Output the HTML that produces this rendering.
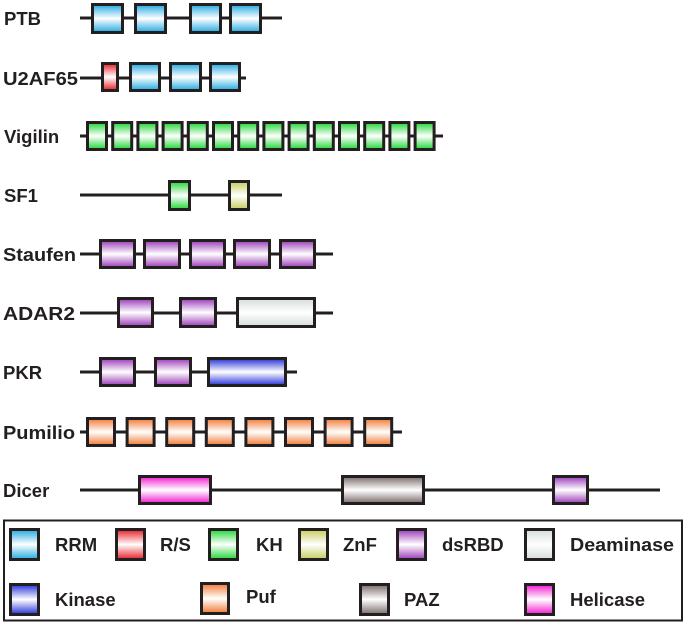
<!DOCTYPE html>
<html><head><meta charset="utf-8"><style>
html,body{margin:0;padding:0;background:#fff;}
svg{display:block;}
text{font-family:"Liberation Sans",Arial,sans-serif;font-weight:bold;fill:#231f20;}
</style></head><body>
<svg width="685" height="624" viewBox="0 0 685 624" xmlns="http://www.w3.org/2000/svg">
<defs>
<linearGradient id="rrm" x1="0" y1="0" x2="0" y2="1"><stop offset="0" stop-color="#1fa8e0"/><stop offset="0.5" stop-color="#fff"/><stop offset="1" stop-color="#1fa8e0"/></linearGradient>
<linearGradient id="rs" x1="0" y1="0" x2="0" y2="1"><stop offset="0" stop-color="#e81c24"/><stop offset="0.5" stop-color="#fff"/><stop offset="1" stop-color="#e81c24"/></linearGradient>
<linearGradient id="kh" x1="0" y1="0" x2="0" y2="1"><stop offset="0" stop-color="#1ed632"/><stop offset="0.5" stop-color="#fff"/><stop offset="1" stop-color="#1ed632"/></linearGradient>
<linearGradient id="znf" x1="0" y1="0" x2="0" y2="1"><stop offset="0" stop-color="#c4cc5a"/><stop offset="0.5" stop-color="#fff"/><stop offset="1" stop-color="#c4cc5a"/></linearGradient>
<linearGradient id="ds" x1="0" y1="0" x2="0" y2="1"><stop offset="0" stop-color="#9a38b8"/><stop offset="0.5" stop-color="#fff"/><stop offset="1" stop-color="#9a38b8"/></linearGradient>
<linearGradient id="dea" x1="0" y1="0" x2="0" y2="1"><stop offset="0" stop-color="#d4dcda"/><stop offset="0.5" stop-color="#fff"/><stop offset="1" stop-color="#d4dcda"/></linearGradient>
<linearGradient id="kin" x1="0" y1="0" x2="0" y2="1"><stop offset="0" stop-color="#2430d8"/><stop offset="0.5" stop-color="#fff"/><stop offset="1" stop-color="#2430d8"/></linearGradient>
<linearGradient id="puf" x1="0" y1="0" x2="0" y2="1"><stop offset="0" stop-color="#f07830"/><stop offset="0.5" stop-color="#fff"/><stop offset="1" stop-color="#f07830"/></linearGradient>
<linearGradient id="paz" x1="0" y1="0" x2="0" y2="1"><stop offset="0" stop-color="#766a66"/><stop offset="0.5" stop-color="#fff"/><stop offset="1" stop-color="#766a66"/></linearGradient>
<linearGradient id="hel" x1="0" y1="0" x2="0" y2="1"><stop offset="0" stop-color="#f018d0"/><stop offset="0.5" stop-color="#fff"/><stop offset="1" stop-color="#f018d0"/></linearGradient>
</defs>
<g stroke="#231f20" stroke-width="3">
<!-- lines -->
<line x1="80" y1="18" x2="282" y2="18"/>
<line x1="80" y1="78" x2="246" y2="78"/>
<line x1="80" y1="136" x2="443" y2="136"/>
<line x1="80" y1="195" x2="282" y2="195"/>
<line x1="80" y1="254" x2="333" y2="254"/>
<line x1="80" y1="313" x2="333" y2="313"/>
<line x1="80" y1="372" x2="297" y2="372"/>
<line x1="80" y1="432" x2="402" y2="432"/>
<line x1="80" y1="490" x2="660" y2="490"/>
<!-- PTB -->
<rect x="92.5" y="4.5" width="30" height="28" fill="url(#rrm)"/>
<rect x="135.5" y="4.5" width="30" height="28" fill="url(#rrm)"/>
<rect x="190.5" y="4.5" width="30" height="28" fill="url(#rrm)"/>
<rect x="230.5" y="4.5" width="30" height="28" fill="url(#rrm)"/>
<!-- U2AF65 -->
<rect x="102.5" y="63.5" width="15" height="27" fill="url(#rs)"/>
<rect x="130.5" y="63.5" width="29" height="27" fill="url(#rrm)"/>
<rect x="170.5" y="63.5" width="30" height="27" fill="url(#rrm)"/>
<rect x="210.5" y="63.5" width="29" height="27" fill="url(#rrm)"/>
<!-- Vigilin -->
<g fill="url(#kh)">
<rect x="87.5" y="122.5" width="19" height="27"/>
<rect x="112.7" y="122.5" width="19" height="27"/>
<rect x="137.9" y="122.5" width="19" height="27"/>
<rect x="163.1" y="122.5" width="19" height="27"/>
<rect x="188.3" y="122.5" width="19" height="27"/>
<rect x="213.5" y="122.5" width="19" height="27"/>
<rect x="238.7" y="122.5" width="19" height="27"/>
<rect x="263.9" y="122.5" width="19" height="27"/>
<rect x="289.1" y="122.5" width="19" height="27"/>
<rect x="314.3" y="122.5" width="19" height="27"/>
<rect x="339.5" y="122.5" width="19" height="27"/>
<rect x="364.7" y="122.5" width="19" height="27"/>
<rect x="389.9" y="122.5" width="19" height="27"/>
<rect x="415.1" y="122.5" width="19" height="27"/>
</g>
<!-- SF1 -->
<rect x="169.5" y="181.5" width="20" height="28" fill="url(#kh)"/>
<rect x="229.5" y="181.5" width="19" height="28" fill="url(#znf)"/>
<!-- Staufen -->
<g fill="url(#ds)">
<rect x="100.5" y="240.5" width="34" height="27"/>
<rect x="144.5" y="240.5" width="35" height="27"/>
<rect x="190.5" y="240.5" width="34" height="27"/>
<rect x="234.5" y="240.5" width="35" height="27"/>
<rect x="280.5" y="240.5" width="34" height="27"/>
</g>
<!-- ADAR2 -->
<rect x="118.5" y="298.5" width="34" height="28" fill="url(#ds)"/>
<rect x="180.5" y="298.5" width="35" height="28" fill="url(#ds)"/>
<rect x="237.5" y="298.5" width="77" height="28" fill="url(#dea)"/>
<!-- PKR -->
<rect x="100.5" y="358.5" width="34" height="27" fill="url(#ds)"/>
<rect x="155.5" y="358.5" width="35" height="27" fill="url(#ds)"/>
<rect x="208.5" y="358.5" width="77" height="27" fill="url(#kin)"/>
<!-- Pumilio -->
<g fill="url(#puf)">
<rect x="87.5" y="418.5" width="27" height="27"/>
<rect x="127.1" y="418.5" width="27" height="27"/>
<rect x="166.7" y="418.5" width="27" height="27"/>
<rect x="206.3" y="418.5" width="27" height="27"/>
<rect x="245.9" y="418.5" width="27" height="27"/>
<rect x="285.5" y="418.5" width="27" height="27"/>
<rect x="325.1" y="418.5" width="27" height="27"/>
<rect x="364.7" y="418.5" width="27" height="27"/>
</g>
<!-- Dicer -->
<rect x="139.5" y="476.5" width="71" height="27" fill="url(#hel)"/>
<rect x="342.5" y="476.5" width="81" height="27" fill="url(#paz)"/>
<rect x="553.5" y="476.5" width="34" height="27" fill="url(#ds)"/>
<!-- legend -->
<rect x="4" y="520.5" width="678" height="100" fill="none" stroke-width="2"/>
<rect x="10.5" y="529.5" width="28" height="30" fill="url(#rrm)"/>
<rect x="116.5" y="529.5" width="28" height="30" fill="url(#rs)"/>
<rect x="209.5" y="529.5" width="28" height="30" fill="url(#kh)"/>
<rect x="299.5" y="529.5" width="28" height="30" fill="url(#znf)"/>
<rect x="397.5" y="529.5" width="28" height="30" fill="url(#ds)"/>
<rect x="525.5" y="529.5" width="28" height="30" fill="url(#dea)"/>
<rect x="10.5" y="584.5" width="28" height="30" fill="url(#kin)"/>
<rect x="201.5" y="583.5" width="27" height="30" fill="url(#puf)"/>
<rect x="360.5" y="584.5" width="28" height="30" fill="url(#paz)"/>
<rect x="525.5" y="584.5" width="28" height="30" fill="url(#hel)"/>
</g>
<g font-size="18.5">
<text x="4" y="25">PTB</text>
<text x="3" y="85" textLength="75" lengthAdjust="spacingAndGlyphs">U2AF65</text>
<text x="4" y="143">Vigilin</text>
<text x="4" y="202">SF1</text>
<text x="3" y="261" textLength="73" lengthAdjust="spacingAndGlyphs">Staufen</text>
<text x="3" y="320" textLength="72" lengthAdjust="spacingAndGlyphs">ADAR2</text>
<text x="3" y="379">PKR</text>
<text x="3" y="439" textLength="72" lengthAdjust="spacingAndGlyphs">Pumilio</text>
<text x="3" y="497">Dicer</text>
<text x="55" y="551">RRM</text>
<text x="160" y="551">R/S</text>
<text x="256" y="551">KH</text>
<text x="343" y="551">ZnF</text>
<text x="442" y="551">dsRBD</text>
<text x="570" y="551" textLength="104" lengthAdjust="spacingAndGlyphs">Deaminase</text>
<text x="55" y="606">Kinase</text>
<text x="246" y="603">Puf</text>
<text x="404" y="606">PAZ</text>
<text x="570" y="606">Helicase</text>
</g>
</svg>
</body></html>
